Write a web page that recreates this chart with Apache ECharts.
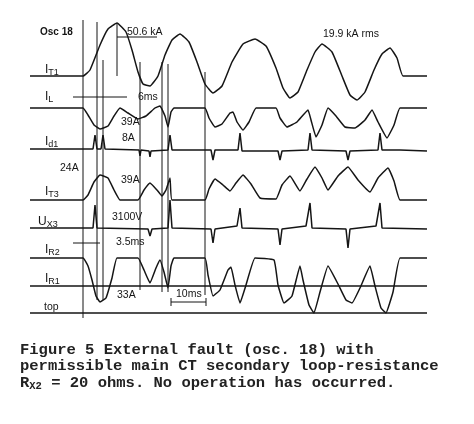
<!DOCTYPE html>
<html><head><meta charset="utf-8">
<script src="https://cdn.jsdelivr.net/npm/echarts@6/dist/echarts.min.js"></script>
<style>html,body{margin:0;background:#fff}#c{width:474px;height:424px}</style>
</head><body><div id="c"></div>
<script>
// traces, [x, y] in picture units
const iT1 = [[30,76],[83,76],[90,70],[100,45],[108,29],[117,23],[126,32],[132,50],[138,72],[143,84],[150,86],[158,76],[165,55],[172,40],[180,34],[189,42],[197,62],[205,84],[213,93],[222,86],[232,62],[243,44],[255,39],[266,46],[276,68],[283,88],[290,98],[298,92],[307,70],[315,52],[322,44],[332,52],[342,76],[350,95],[357,100],[365,92],[374,70],[382,54],[390,48],[397,58],[403,76],[427,76]];
const iL = [[30,108],[83,108],[88,115],[94,125],[100,129],[108,126],[114,116],[120,108],[128,113],[138,119],[146,116],[155,108],[160,106],[165,116],[168,127],[171,112],[174,108],[205,108],[209,118],[215,127],[222,124],[230,113],[233,112],[237,122],[243,130],[249,122],[256,108],[276,108],[280,118],[287,127],[297,122],[308,110],[311,120],[316,137],[322,125],[328,108],[336,116],[345,127],[355,128],[365,120],[372,110],[378,122],[387,138],[394,125],[400,108],[427,108]];
const iD1 = [[30,149],[83,149],[93,149],[95,135],[97,149],[101,149],[103,135],[105,149],[139,150],[140,156],[141,150],[149,151],[150,157],[151,151],[168,150],[170,135],[172,150],[211,150],[213,160],[215,150],[238,150],[240,133],[242,151],[278,151],[280,160],[282,151],[308,150],[310,133],[312,150],[346,151],[348,160],[350,151],[378,150],[380,133],[382,150],[400,150],[427,151]];
const iT3 = [[30,200],[83,200],[88,195],[94,182],[100,175],[108,178],[114,190],[120,200],[138,200],[144,190],[150,183],[157,190],[162,196],[166,190],[170,178],[172,200],[205,200],[209,189],[215,179],[223,185],[230,191],[236,183],[243,175],[251,184],[260,198],[276,199],[282,185],[290,176],[300,191],[307,179],[315,167],[322,178],[328,190],[338,176],[348,167],[358,180],[370,192],[378,178],[388,168],[394,181],[400,200],[427,200]];
const uX3 = [[30,228],[93,228],[95,205],[97,228],[148,229],[150,236],[152,229],[168,228],[170,200],[172,228],[211,229],[213,243],[215,229],[237,226],[240,208],[242,228],[278,229],[280,245],[282,229],[306,226],[310,203],[312,228],[346,229],[348,248],[350,229],[376,226],[380,203],[382,228],[427,229]];
const iR2 = [[30,258],[83,258],[88,266],[92,280],[96,296],[100,302],[106,298],[112,278],[117,258],[138,258],[144,270],[150,283],[156,268],[160,260],[164,272],[168,288],[171,266],[174,258],[205,258],[208,275],[213,296],[220,290],[228,270],[231,267],[235,285],[240,303],[246,285],[255,258],[274,260],[278,285],[284,303],[292,296],[300,266],[303,280],[309,305],[314,313],[320,292],[328,266],[338,284],[346,300],[352,303],[360,288],[370,266],[375,286],[381,308],[386,313],[393,292],[400,258],[427,258]];
const iR1 = [[30,286],[427,286]];
const topLine = [[30,313],[427,313]];
const markers = [[[83,20],[83,318]],[[97,22],[97,300]],[[103,60],[103,300]],[[117,23],[117,76]],[[140,62],[140,290]],[[162,62],[162,292]],[[168,64],[168,292]],[[205,72],[205,295]],[[73,97],[127,97]],[[73,243],[100,243]],[[117,37],[157,37]],[[171,302],[206,302]],[[171,298],[171,306]],[[206,298],[206,306]]];
const names = [['Osc 18',40,32,''],['I','T1',45,70],['I','L',45,97],['I','d1',45,142],['I','T3',45,192],['U','X3',38,222],['I','R2',45,250],['I','R1',45,279]];
const notes = [['50.6 kA',127,32],['19.9 kA rms',323,34],['6ms',138,97],['39A',121,122],['8A',122,138],['24A',60,168],['39A',121,180],['3100V',112,217],['3.5ms',116,242],['33A',117,295],['10ms',176,294],['top',44,307]];

const chart = echarts.init(document.getElementById('c'));
const ink = '#151515';
const trace = (d, s) => ({type:'line', data:d, showSymbol:false, smooth:s, silent:true, lineStyle:{color:ink, width:1.5}});
const series = [trace(iT1, 0.12), trace(iL, 0.1), trace(iD1, false), trace(iT3, 0.1), trace(uX3, false), trace(iR2, 0.1), trace(iR1, false), trace(topLine, false)];
markers.forEach(m => series.push({type:'line', data:m, showSymbol:false, silent:true, lineStyle:{color:ink, width:1}}));

const graphic = [];
names.forEach(n => {
  if (n[3] === '') graphic.push({type:'text', x:n[1], y:n[2], style:{text:n[0], font:'bold 10px Liberation Sans', fill:ink, verticalAlign:'middle'}});
  else graphic.push({type:'text', x:n[2], y:n[3], style:{text:'{a|'+n[0]+'}{b|'+n[1]+'}', fill:ink, verticalAlign:'middle',
    rich:{a:{font:'12px Liberation Sans', fill:ink}, b:{font:'9px Liberation Sans', fill:ink, padding:[6,0,0,0]}}}});
});
notes.forEach(n => graphic.push({type:'text', x:n[1], y:n[2], style:{text:n[0], font:'10.5px Liberation Sans', fill:ink, verticalAlign:'middle'}}));
const capFont = 'bold 15.5px Liberation Mono';
const cap = ['Figure 5 External fault (osc. 18) with', 'permissible main CT secondary loop-resistance'];
cap.forEach((t, i) => graphic.push({type:'text', x:20, y:350 + i*16, style:{text:t, font:capFont, fill:'#222', verticalAlign:'middle'}}));
graphic.push({type:'text', x:20, y:383, style:{text:'{a|R}{b|X2}{a| = 20 ohms. No operation has occurred.}', verticalAlign:'middle',
  rich:{a:{font:capFont, fill:'#222'}, b:{font:'bold 10.5px Liberation Mono', fill:'#222', padding:[6,0,0,0]}}}});

chart.setOption({
  animation:false,
  backgroundColor:'#fff',
  grid:{left:0, right:0, top:0, bottom:0},
  xAxis:{type:'value', min:0, max:474, show:false},
  yAxis:{type:'value', min:0, max:424, inverse:true, show:false},
  series:series,
  graphic:graphic
});
</script></body></html>
